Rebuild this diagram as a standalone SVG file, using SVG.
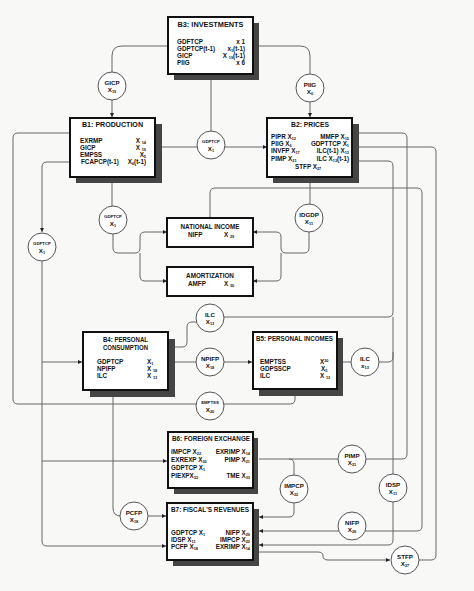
<svg xmlns="http://www.w3.org/2000/svg" width="474" height="591" viewBox="0 0 474 591">
<defs>
<marker id="a" viewBox="0 0 6 6" refX="6" refY="3" markerWidth="4" markerHeight="4" markerUnits="userSpaceOnUse" orient="auto"><path d="M0,0 L6,3 L0,6 z" fill="#222"/></marker>
<style>
.box{fill:#fff;stroke:#111;stroke-width:2}
.sh{fill:#454545}
.c{fill:#fff;stroke:#555;stroke-width:1}
.ln{fill:none;stroke:#666;stroke-width:1}
text{font-family:"Liberation Sans",Arial,sans-serif;font-weight:bold;fill:#111}
.t{font-size:7px}
.r{font-size:6.3px}
.e{text-anchor:end}
.m{text-anchor:middle}
.cl{font-size:6.2px;text-anchor:middle}
.cs{font-size:4.3px;text-anchor:middle}
.sub{font-size:3.9px}
</style>
</defs>
<rect width="474" height="591" fill="#f8f8f6"/>

<g id="connectors">
<path class="ln" d="M168,46 H122 Q112,46 112,56 V72"/>
<path class="ln" d="M259,46 H300 Q310,46 310,56 V75"/>
<path class="ln" d="M112,100 V117" marker-end="url(#a)"/>
<path class="ln" d="M310,102 V117" marker-end="url(#a)"/>
<path class="ln" d="M211,80 V131"/>
<path class="ln" d="M197,147 H162"/>
<path class="ln" d="M225,147 H267" marker-end="url(#a)"/>
<path class="ln" d="M112,183 V206"/>
<path class="ln" d="M113,234 V248 Q113,253 118,253 H135 Q140,253 140,248 V237 Q140,232 145,232 H167" marker-end="url(#a)"/>
<path class="ln" d="M140,253 V276 Q140,281 145,281 H167" marker-end="url(#a)"/>
<path class="ln" d="M310,183 V204"/>
<path class="ln" d="M309,232 V248 Q309,253 304,253 H286 Q281,253 281,248 V237 Q281,232 276,232 H253" marker-end="url(#a)"/>
<path class="ln" d="M281,253 V276 Q281,281 276,281 H253" marker-end="url(#a)"/>
<path class="ln" d="M210,218 V193 Q210,188 215,188 H417 Q422,188 422,193 V526 Q422,531 417,531 H365"/>
<path class="ln" d="M339,531 H259" marker-end="url(#a)"/>
<path class="ln" d="M70,133 H18 Q13,133 13,138 V399 Q13,404 18,404 H196"/>
<path class="ln" d="M224,404 H290 Q295,404 295,399 V396"/>
<path class="ln" d="M70,162 H47 Q42,162 42,167 V232" marker-end="url(#a)"/>
<path class="ln" d="M42,261 V541 Q42,546 47,546 H166" marker-end="url(#a)"/>
<path class="ln" d="M42,362 H82" marker-end="url(#a)"/>
<path class="ln" d="M42,461 H167" marker-end="url(#a)"/>
<path class="ln" d="M113,397 V508 Q113,516 121,516"/>
<path class="ln" d="M148,516 H166" marker-end="url(#a)"/>
<path class="ln" d="M175,347 H182 Q187,347 187,342 V327 Q187,322 192,322 H197"/>
<path class="ln" d="M224,317 H388 Q393,317 393,312 V166 Q393,161 388,161 H359"/>
<path class="ln" d="M393,317 V474"/>
<path class="ln" d="M393,352 V357 Q393,362 388,362 H379"/>
<path class="ln" d="M393,502 V540 Q393,545 388,545 H259" marker-end="url(#a)"/>
<path class="ln" d="M175,362 H196"/>
<path class="ln" d="M224,362 H252" marker-end="url(#a)"/>
<path class="ln" d="M343,362 H351"/>
<path class="ln" d="M359,133 H402 Q407,133 407,138 V454 Q407,459 402,459 H366"/>
<path class="ln" d="M338,459 H259"/>
<path class="ln" d="M289,459 Q294,459 294,464 V475"/>
<path class="ln" d="M294,503 V512 Q294,517 289,517 H259" marker-end="url(#a)"/>
<path class="ln" d="M359,147 H431 Q436,147 436,152 V555 Q436,560 431,560 H419"/>
<path class="ln" d="M259,552 H318 Q323,552 323,556 Q323,560 328,560 H390" marker-end="url(#a)"/>
</g>

<g id="B3">
<rect class="sh" x="174" y="23" width="85" height="57"/>
<rect class="box" x="168" y="17" width="85" height="57"/>
<text class="t m" x="210.5" y="27" textLength="66" lengthAdjust="spacingAndGlyphs">B3: INVESTMENTS</text>
<text class="r" x="177" y="44">GDFTCP</text>
<text class="r" x="177" y="51">GDPTCP(t-1)</text>
<text class="r" x="177" y="58">GICP</text>
<text class="r" x="177" y="65">PIIG</text>
<text class="r e" x="245" y="44">x 1</text>
<text class="r e" x="245" y="51">x<tspan class="sub" dy="1.2">1</tspan><tspan dy="-1.2">(t-1)</tspan></text>
<text class="r e" x="245" y="58">X <tspan class="sub" dy="1.2">19</tspan><tspan dy="-1.2">(t-1)</tspan></text>
<text class="r e" x="245" y="65">x 6</text>
</g>

<g id="B1">
<rect class="sh" x="76" y="124" width="86" height="59"/>
<rect class="box" x="70" y="118" width="85" height="59"/>
<text class="t m" x="112.5" y="127" textLength="61" lengthAdjust="spacingAndGlyphs">B1: PRODUCTION</text>
<text class="r" x="80" y="143">EXRMP</text>
<text class="r" x="80" y="150">GICP</text>
<text class="r" x="80" y="157">EMPSS</text>
<text class="r" x="81" y="164">FCAPCP(t-1)</text>
<text class="r e" x="146" y="143">X <tspan class="sub" dy="1.2">14</tspan></text>
<text class="r e" x="146" y="150">X <tspan class="sub" dy="1.2">19</tspan></text>
<text class="r e" x="146" y="157">X<tspan class="sub" dy="1.2">5</tspan></text>
<text class="r e" x="146" y="164">X<tspan class="sub" dy="1.2">6</tspan><tspan dy="-1.2">(t-1)</tspan></text>
</g>

<g id="B2">
<rect class="sh" x="273" y="124" width="86" height="59"/>
<rect class="box" x="267" y="118" width="85" height="59"/>
<text class="t m" x="310" y="127" textLength="38" lengthAdjust="spacingAndGlyphs">B2: PRICES</text>
<text class="r" x="271" y="139">PIPR X<tspan class="sub" dy="1.2">12</tspan></text>
<text class="r" x="271" y="146">PIIG X<tspan class="sub" dy="1.2">6</tspan></text>
<text class="r" x="271" y="153">INVFP X<tspan class="sub" dy="1.2">17</tspan></text>
<text class="r" x="271" y="161">PIMP X<tspan class="sub" dy="1.2">21</tspan></text>
<text class="r" x="295" y="169">STFP X<tspan class="sub" dy="1.2">27</tspan></text>
<text class="r e" x="349" y="139">MMFP X<tspan class="sub" dy="1.2">15</tspan></text>
<text class="r e" x="349" y="146">GDPTTCP X<tspan class="sub" dy="1.2">1</tspan></text>
<text class="r e" x="349" y="153">ILC(t-1) X<tspan class="sub" dy="1.2">13</tspan></text>
<text class="r e" x="349" y="161">ILC X<tspan class="sub" dy="1.2">13</tspan><tspan dy="-1.2">(t-1)</tspan></text>
</g>

<g id="NI">
<rect class="box" x="167" y="218" width="86" height="29"/>
<text class="r m" x="210" y="229">NATIONAL INCOME</text>
<text class="r" x="188" y="237">NIFP</text>
<text class="r" x="224" y="237">X <tspan class="sub" dy="1.2">29</tspan></text>
</g>

<g id="AMORT">
<rect class="box" x="167" y="267" width="86" height="29"/>
<text class="r m" x="210" y="278">AMORTIZATION</text>
<text class="r" x="188" y="286">AMFP</text>
<text class="r" x="224" y="286">X <tspan class="sub" dy="1.2">30</tspan></text>
</g>

<g id="B4">
<rect class="sh" x="90" y="339" width="85" height="58"/>
<rect class="box" x="83" y="332" width="85" height="58"/>
<text class="t m" x="125.5" y="342" textLength="45" lengthAdjust="spacingAndGlyphs">B4: PERSONAL</text>
<text class="t m" x="125.5" y="350" textLength="45" lengthAdjust="spacingAndGlyphs">CONSUMPTION</text>
<text class="r" x="97" y="364">GDPTCP</text>
<text class="r" x="97" y="371">NPIFP</text>
<text class="r" x="97" y="378">ILC</text>
<text class="r" x="147" y="364">X<tspan class="sub" dy="1.2">1</tspan></text>
<text class="r" x="147" y="371">X <tspan class="sub" dy="1.2">18</tspan></text>
<text class="r" x="147" y="378">X <tspan class="sub" dy="1.2">13</tspan></text>
</g>

<g id="B5">
<rect class="sh" x="259" y="338" width="84" height="58"/>
<rect class="box" x="253" y="332" width="84" height="57"/>
<text class="t" x="256" y="341" textLength="77" lengthAdjust="spacingAndGlyphs">B5: PERSONAL INCOMES</text>
<text class="r" x="260" y="364">EMPTSS</text>
<text class="r" x="260" y="371">GDPSSCP</text>
<text class="r" x="260" y="378">ILC</text>
<text class="r" x="320" y="364">X<tspan class="sub" dy="-2">20</tspan></text>
<text class="r" x="321" y="371">X<tspan class="sub" dy="1.2">5</tspan></text>
<text class="r" x="320" y="378">X <tspan class="sub" dy="1.2">13</tspan></text>
</g>

<g id="B6">
<rect class="sh" x="174" y="438" width="84" height="56"/>
<rect class="box" x="168" y="432" width="85" height="56"/>
<text class="t" x="172" y="441" textLength="78" lengthAdjust="spacingAndGlyphs">B6: FOREIGN EXCHANGE</text>
<text class="r" x="171" y="454">IMPCP X<tspan class="sub" dy="1.2">22</tspan></text>
<text class="r" x="171" y="462">EXREXP X<tspan class="sub" dy="1.2">30</tspan></text>
<text class="r" x="171" y="470">GDPTCP X<tspan class="sub" dy="1.2">1</tspan></text>
<text class="r" x="171" y="478">PIEXPX<tspan class="sub" dy="1.2">32</tspan></text>
<text class="r e" x="250" y="454">EXRIMP X<tspan class="sub" dy="1.2">14</tspan></text>
<text class="r e" x="250" y="462">PIMP  X<tspan class="sub" dy="1.2">21</tspan></text>
<text class="r e" x="250" y="478">TME  X<tspan class="sub" dy="1.2">33</tspan></text>
</g>

<g id="B7">
<rect class="sh" x="173" y="509" width="86" height="57"/>
<rect class="box" x="167" y="503" width="86" height="57"/>
<text class="t" x="171" y="512" textLength="78" lengthAdjust="spacingAndGlyphs">B7: FISCAL'S REVENUES</text>
<text class="r" x="171" y="535">GDPTCP X<tspan class="sub" dy="1.2">1</tspan></text>
<text class="r" x="171" y="542">IDSP X<tspan class="sub" dy="1.2">11</tspan></text>
<text class="r" x="171" y="549">PCFP X<tspan class="sub" dy="1.2">18</tspan></text>
<text class="r e" x="250" y="535">NIFP  X<tspan class="sub" dy="1.2">29</tspan></text>
<text class="r e" x="250" y="542">IMPCP X<tspan class="sub" dy="1.2">22</tspan></text>
<text class="r e" x="250" y="549">EXRIMP X<tspan class="sub" dy="1.2">14</tspan></text>
</g>

<g id="c-gicp"><circle class="c" cx="112" cy="86" r="14"/><text class="cl" x="112" y="85">GICP</text><text class="cl" x="112" y="92">X<tspan class="sub" dy="1.2">19</tspan></text></g>
<g id="c-piig"><circle class="c" cx="310" cy="88" r="14"/><text class="cl" x="310" y="87">PIIG</text><text class="cl" x="310" y="94">X<tspan class="sub" dy="1.2">6</tspan></text></g>
<g id="c-gdptcp1"><circle class="c" cx="211" cy="145" r="14"/><text class="cs" x="211" y="143">GDPTCP</text><text class="cl" x="211" y="151">X<tspan class="sub" dy="1.2">1</tspan></text></g>
<g id="c-gdptcp2"><circle class="c" cx="113" cy="220" r="14"/><text class="cs" x="113" y="218">GDPTCP</text><text class="cl" x="113" y="226">X<tspan class="sub" dy="1.2">1</tspan></text></g>
<g id="c-idgdp"><circle class="c" cx="309" cy="218" r="14"/><text class="cl" x="309" y="217">IDGDP</text><text class="cl" x="309" y="224">X<tspan class="sub" dy="1.2">11</tspan></text></g>
<g id="c-gdptcp3"><circle class="c" cx="42" cy="247" r="14"/><text class="cs" x="42" y="245">GDPTCP</text><text class="cl" x="42" y="253">X<tspan class="sub" dy="1.2">1</tspan></text></g>
<g id="c-ilc1"><circle class="c" cx="210" cy="318" r="14"/><text class="cl" x="210" y="317">ILC</text><text class="cl" x="210" y="324">X<tspan class="sub" dy="1.2">13</tspan></text></g>
<g id="c-npifp"><circle class="c" cx="210" cy="362" r="14"/><text class="cl" x="210" y="361">NPIFP</text><text class="cl" x="210" y="368">X<tspan class="sub" dy="1.2">18</tspan></text></g>
<g id="c-emptss"><circle class="c" cx="210" cy="406" r="14"/><text class="cs" x="210" y="404">EMPTSS</text><text class="cl" x="210" y="412">X<tspan class="sub" dy="1.2">20</tspan></text></g>
<g id="c-ilc2"><circle class="c" cx="365" cy="362" r="14"/><text class="cl" x="365" y="361">ILC</text><text class="cl" x="365" y="368">x<tspan class="sub" dy="1.2">13</tspan></text></g>
<g id="c-pimp"><circle class="c" cx="352" cy="459" r="14"/><text class="cl" x="352" y="458">PIMP</text><text class="cl" x="352" y="465">X<tspan class="sub" dy="1.2">21</tspan></text></g>
<g id="c-impcp"><circle class="c" cx="294" cy="489" r="14"/><text class="cl" x="294" y="488">IMPCP</text><text class="cl" x="294" y="495">X<tspan class="sub" dy="1.2">22</tspan></text></g>
<g id="c-idsp"><circle class="c" cx="393" cy="488" r="14"/><text class="cl" x="393" y="487">IDSP</text><text class="cl" x="393" y="494">X<tspan class="sub" dy="1.2">11</tspan></text></g>
<g id="c-pcfp"><circle class="c" cx="134" cy="516" r="14"/><text class="cl" x="134" y="515">PCFP</text><text class="cl" x="134" y="522">X<tspan class="sub" dy="1.2">18</tspan></text></g>
<g id="c-nifp"><circle class="c" cx="352" cy="526" r="14"/><text class="cl" x="352" y="525">NIFP</text><text class="cl" x="352" y="532">X<tspan class="sub" dy="1.2">29</tspan></text></g>
<g id="c-stfp"><circle class="c" cx="405" cy="560" r="14"/><text class="cl" x="405" y="559">STFP</text><text class="cl" x="405" y="566">X<tspan class="sub" dy="1.2">27</tspan></text></g>
</svg>
